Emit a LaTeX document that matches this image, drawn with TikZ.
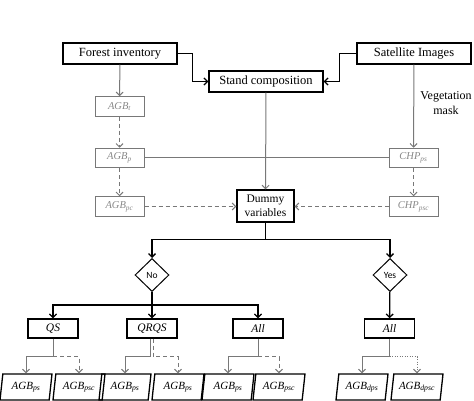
\documentclass[tikz,border=0pt]{standalone}
\usepackage{fontspec}
\setmainfont{Liberation Serif}
\newfontfamily\calibri{Carlito}
\usetikzlibrary{arrows.meta,calc,positioning,shapes.geometric}
\definecolor{linegray}{RGB}{120,120,120}
\definecolor{textgray}{RGB}{135,135,135}
\newcommand{\agb}[1]{AGB\textsubscript{#1}}
\newcommand{\chp}[1]{CHP\textsubscript{#1}}
\tikzset{
    flow/.style={>={Straight Barb[length=3.5pt,width=7pt]},line join=miter,
                 x=1pt,y=-1pt},
    mainbox/.style={rectangle, draw, line width=1.3pt, minimum width=114pt,
                    minimum height=21pt, inner sep=1pt, font=\fontsize{12.5}{14}\selectfont},
    varbox/.style={rectangle, draw=linegray, line width=1pt, minimum width=49pt,
                   minimum height=19.5pt, inner sep=1pt, text=textgray,
                   font=\fontsize{10.5}{11}\selectfont\itshape},
    groupbox/.style={rectangle, draw, line width=1.3pt, minimum width=50pt,
                     minimum height=19pt, inner sep=1pt, font=\fontsize{11.5}{12}\selectfont\itshape},
    choice/.style={diamond, draw, line width=1pt, minimum width=34pt,
                   minimum height=33pt, inner sep=0pt, font=\calibri\fontsize{9.5}{10}\selectfont},
    outbox/.style={trapezium, trapezium left angle=75, trapezium right angle=105,
                   trapezium stretches body, draw, line width=1.3pt, minimum width=52pt,
                   minimum height=26pt, inner sep=0pt, font=\fontsize{11}{12}\selectfont\itshape},
    blackline/.style={line width=1.3pt},
    grayline/.style={draw=linegray, line width=1pt},
    dashline/.style={grayline, dash pattern=on 4pt off 3pt},
    dotline/.style={grayline, dash pattern=on 1pt off 1.5pt},
    }
\begin{document}
\begin{tikzpicture}[flow]
    \useasboundingbox (0,0) rectangle (474,401);

    % sources
    \node[mainbox] (forest) at (120,53.5) {Forest inventory};
    \node[mainbox] (stand) at (266,81.5) {Stand composition};
    \node[mainbox] (sat) at (414,53.5) {Satellite Images};
    \node[align=center, font=\fontsize{12}{15}\selectfont] (vegmask) at (446,103) {Vegetation\\mask};

    % variables
    \node[varbox] (agbt) at (119.5,106.5) {\agb{t}};
    \node[varbox] (agbp) at (119.5,158) {\agb{p}};
    \node[varbox] (agbpc) at (119.5,206.5) {\agb{pc}};
    \node[varbox] (chpps) at (413.5,158) {\chp{ps}};
    \node[varbox] (chppsc) at (413.5,206.5) {\chp{psc}};
    \node[rectangle, draw, line width=1.3pt, minimum width=57pt, minimum height=32pt,
          inner sep=1pt, align=center, font=\fontsize{11.5}{14}\selectfont]
          (dummy) at (265.5,206) {Dummy\\variables};

    % decisions
    \node[choice] (no) at (152,275) {No};
    \node[choice] (yes) at (390,275) {Yes};
    \node[groupbox] (qs) at (53,328.5) {QS};
    \node[groupbox] (qrqs) at (152,328.5) {QRQS};
    \node[groupbox] (all) at (258,328.5) {All};
    \node[groupbox] (allyes) at (389.5,328.5) {All};

    % outputs
    \node[outbox] (o1) at (26,387) {\agb{ps}};
    \node[outbox] (o2) at (79,387) {\agb{psc}};
    \node[outbox] (o3) at (125,387) {\agb{ps}};
    \node[outbox] (o4) at (178,387) {\agb{ps}};
    \node[outbox] (o5) at (228,387) {\agb{ps}};
    \node[outbox] (o6) at (279,387) {\agb{psc}};
    \node[outbox] (o7) at (362,387) {\agb{dps}};
    \node[outbox] (o8) at (417,387) {\agb{dpsc}};

    % top connectors
    \draw[blackline,->] (forest.east) -- ++(15,0) |- (stand.west);
    \draw[blackline,->] (sat.west) -- ++(-17,0) |- (stand.east);
    \draw[grayline,->] (forest) -- (agbt);
    \draw[dashline,->] (agbt) -- (agbp);
    \draw[dashline,->] (agbp) -- (agbpc);
    \draw[grayline,->] (sat) -- (chpps);
    \draw[dashline,->] (chpps) -- (chppsc);
    \draw[grayline] (agbp.east) -- (chpps.west);
    \draw[grayline,->] (stand) -- (dummy);
    \draw[dashline,->] (agbpc.east) -- (agbpc.east -| dummy.west);
    \draw[dashline,->] (chppsc.west) -- (chppsc.west -| dummy.east);

    % decision connectors
    \coordinate (dfork) at ($(dummy.south)+(0,17)$);
    \draw[blackline] (dummy.south) -- (dfork);
    \draw[blackline,->] (dfork) -| (no.north);
    \draw[blackline,->] (dfork) -| (yes.north);
    \coordinate (nofork) at (152,305);
    \draw[blackline] (no.south) -- (nofork);
    \draw[blackline,->] (nofork) -| (qs.north);
    \draw[blackline,->] (nofork) -- (qrqs.north);
    \draw[blackline,->] (nofork) -| (all.north);
    \draw[blackline,->] (yes) -- (allyes);

    % output connectors
    \draw[grayline,->] (qs.south) -- ++(0,18) -| (o1.north);
    \draw[dashline,->] (qs.south) ++(0,18) -| (o2.north);
    \draw[grayline,->] ([xshift=-1.2pt]qrqs.south) -- ++(0,18) -| (o3.north);
    \draw[dashline,->] ([xshift=1.2pt]qrqs.south) -- ++(0,18) -| (o4.north);
    \draw[grayline,->] (all.south) -- ++(0,18) -| (o5.north);
    \draw[dashline,->] (all.south) ++(0,18) -| (o6.north);
    \draw[grayline,->] (allyes.south) -- ++(0,18) -| (o7.north);
    \draw[dotline,->] (allyes.south) ++(0,18) -| (o8.north);
\end{tikzpicture}
\end{document}
